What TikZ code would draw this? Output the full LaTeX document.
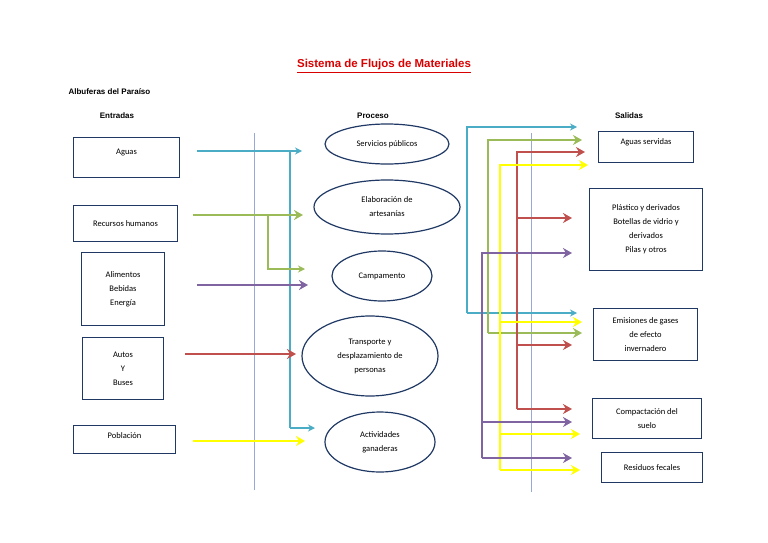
\documentclass[tikz,border=0pt]{standalone}
\usepackage{fontspec}
\setmainfont{Carlito}
\newfontfamily\arialf{Liberation Sans}
\usetikzlibrary{arrows.meta,shapes.geometric}
\definecolor{cy}{RGB}{75,172,198}
\definecolor{gr}{RGB}{155,187,89}
\definecolor{rd}{RGB}{192,80,77}
\definecolor{pu}{RGB}{128,100,162}
\definecolor{ye}{RGB}{255,255,0}
\definecolor{nv}{RGB}{31,56,100}
\definecolor{gl}{RGB}{150,170,210}
\begin{document}
\begin{tikzpicture}[x=1pt,y=-1pt,
 bx/.style={draw=nv,line width=1pt,align=center,font=\fontsize{8.5}{14}\selectfont,inner sep=0pt},
 el/.style={draw=nv,line width=1.2pt,ellipse,align=center,font=\fontsize{8.5}{14}\selectfont,inner sep=0pt},
 ar/.style={line width=2.8pt,-{Stealth[length=9pt,width=10pt]}},
 tar/.style={line width=1.8pt,-{Stealth[length=7pt,width=7pt]}},
 hd/.style={font=\arialf\bfseries\fontsize{8}{10}\selectfont}]
\useasboundingbox (0,0) rectangle (768,543);
\node[font=\arialf\bfseries\fontsize{11.5}{13}\selectfont,text=red!85!black] (t) at (384,66) {\underline{Sistema de Flujos de Materiales}};
\node[hd,anchor=west] (alb) at (65,92) {Albuferas del Paraíso};
\node[hd] (en) at (117,116) {Entradas};
\node[hd] (pr) at (373,116) {Proceso};
\node[hd] (sa) at (629,116) {Salidas};
\draw[gl,line width=0.7pt] (254,133) coordinate (l1) -- (254,490) coordinate (l2);
\draw[gl,line width=0.7pt] (531,133) coordinate (r1) -- (531,492) coordinate (r2);
% inputs
\node[bx,minimum width=106pt,minimum height=40pt,anchor=north west,text depth=12pt] (ag) at (73,137) {Aguas};
\node[bx,minimum width=104pt,minimum height=36pt,anchor=north west] (rh) at (73,205) {Recursos humanos};
\node[bx,minimum width=83pt,minimum height=73pt,anchor=north west] (al) at (81,252) {Alimentos\\Bebidas\\Energía};
\node[bx,minimum width=81pt,minimum height=62pt,anchor=north west] (au) at (82,337) {Autos\\Y\\Buses};
\node[bx,minimum width=102pt,minimum height=28pt,anchor=north west,text depth=8pt] (po) at (73,425) {Población};
% process
\node[el,minimum width=124pt,minimum height=40pt] (sp) at (387,144) {Servicios públicos};
\node[el,minimum width=146pt,minimum height=54pt] (ea) at (387,207) {Elaboración de\\artesanías};
\node[el,minimum width=100pt,minimum height=50pt] (ca) at (382,276) {Campamento};
\node[el,minimum width=136pt,minimum height=80pt] (tr) at (370,356) {Transporte y\\desplazamiento de\\personas};
\node[el,minimum width=110pt,minimum height=60pt] (ac) at (380,442) {Actividades\\ganaderas};
% outputs
\node[bx,minimum width=95pt,minimum height=31pt,anchor=north west,text depth=10pt] (as) at (598,131) {Aguas servidas};
\node[bx,minimum width=113pt,minimum height=82pt,anchor=north west] (pl) at (589,188) {Plástico y derivados\\Botellas de vidrio y\\derivados\\Pilas y otros};
\node[bx,minimum width=104pt,minimum height=52pt,anchor=north west] (em) at (593,308) {Emisiones de gases\\de efecto\\invernadero};
\node[bx,minimum width=109pt,minimum height=40pt,anchor=north west] (co) at (592,398) {Compactación del\\suelo};
\node[bx,minimum width=101pt,minimum height=30pt,anchor=north west] (rf) at (601,452) {Residuos fecales};
% left flows
\coordinate (a0) at (197,151);
\draw[cy,tar] (a0) -- (302,151);
\draw[cy,line width=1.8pt] (290,151) -- (290,428) coordinate (c1);
\draw[cy,tar] (c1) -- (315,428);
\draw[gr,ar] (193,215) coordinate (g0) -- (303,215);
\draw[gr,tar] (268,215) -- (268,269) -- (305,269);
\draw[pu,ar] (197,285) coordinate (p0) -- (308,285);
\draw[rd,ar] (185,354) coordinate (r0) -- (296,354);
\draw[ye,ar] (193,441) coordinate (y0) -- (305,441);
% right flows
\draw[cy,tar] (467,313) -- (467,127) -- (577,127);
\draw[cy,tar] (467,313) -- (577,313);
\draw[gr,ar] (488,333) -- (488,140) -- (582,140);
\draw[gr,ar] (488,333) -- (582,333);
\draw[rd,ar] (517,409) -- (517,152) -- (585,152);
\draw[rd,ar] (517,218) -- (572,218);
\draw[rd,ar] (517,345) -- (572,345);
\draw[rd,ar] (517,409) -- (572,409);
\draw[ye,ar] (500,470) -- (500,165) -- (588,165);
\draw[ye,ar] (500,322) -- (582,322);
\draw[ye,ar] (500,434) -- (580,434);
\draw[ye,ar] (500,470) -- (580,470);
\draw[pu,ar] (482,458) -- (482,253) -- (572,253);
\draw[pu,ar] (482,422) -- (572,422);
\draw[pu,ar] (482,458) -- (572,458);
\end{tikzpicture}
\end{document}
